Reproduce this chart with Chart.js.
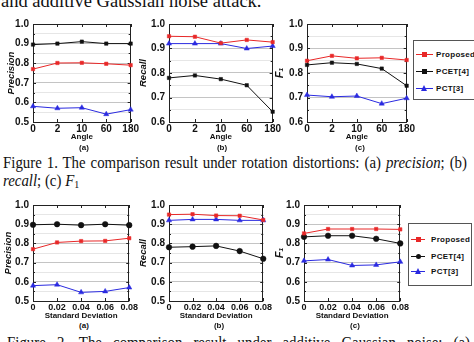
<!DOCTYPE html>
<html>
<head>
<meta charset="utf-8">
<script src="https://cdn.jsdelivr.net/npm/chart.js@4"></script>
<style>
  body { margin: 0; background: #fff; }
  #page { position: relative; width: 474px; height: 342px; overflow: hidden; background: #fff; }
  canvas { position: absolute; }
  .serif { position: absolute; font-family: 'Liberation Serif', 'Times New Roman', serif; color: #111; white-space: nowrap; transform-origin: 0 0; }
  .cap { font-size: 16.5px; line-height: 18px; }
  .just { text-align: justify; text-align-last: justify; }
  .sub { position: absolute; font: bold 8px 'Liberation Sans', Arial, sans-serif; color: #111; transform: translateX(-50%); }
  .legend { position: absolute; border: 1px solid #555; background: #fff; }
  .legend .row { position: absolute; left: 0; height: 10px; width: 80px; }
  .legend .ln { position: absolute; top: 4px; height: 1px; }
  .legend .txt { position: absolute; top: 0; font: bold 8px 'Liberation Sans', Arial, sans-serif; line-height: 10px; color: #111; letter-spacing: 0.3px; }
  .mk { position: absolute; }
</style>
</head>
<body>
<div id="page">
  <div class="serif" style="left:1px; top:-8px; font-size:18.5px; line-height:18.5px;">and additive Gaussian noise attack.</div>

  <canvas id="c1" width="134" height="128" style="left:6px; top:14px;"></canvas>
  <canvas id="c2" width="144" height="128" style="left:138px; top:14px;"></canvas>
  <canvas id="c3" width="143" height="128" style="left:273px; top:14px;"></canvas>
  <div class="legend" id="lg1" style="left:413px; top:40px; width:70px; height:58px;"></div>
  <div class="sub" style="left:84px; top:143px;">(a)</div>
  <div class="sub" style="left:222px; top:143px;">(b)</div>
  <div class="sub" style="left:360px; top:143px;">(c)</div>
  <div class="serif cap just" data-w="464" style="left:3px; top:154px;">Figure 1. The comparison result under rotation distortions: (a) <i>precision</i>; (b)</div>
  <div class="serif cap" style="left:3px; top:172px;"><i>recall</i>; (c) <i>F</i><span style="font-size:11px; vertical-align:-2px;">1</span></div>

  <canvas id="c4" width="136" height="126" style="left:3px; top:195px;"></canvas>
  <canvas id="c5" width="135" height="126" style="left:138px; top:195px;"></canvas>
  <canvas id="c6" width="137" height="126" style="left:273px; top:195px;"></canvas>
  <div class="legend" id="lg2" style="left:408px; top:223px; width:62px; height:61px;"></div>
  <div class="sub" style="left:84px; top:321px;">(a)</div>
  <div class="sub" style="left:219px; top:321px;">(b)</div>
  <div class="sub" style="left:355px; top:321px;">(c)</div>
  <div class="serif cap just" data-w="463" style="left:7px; top:333.5px;">Figure 2. The comparison result under additive Gaussian noise: (a)</div>
</div>
<script>
const angleLabels = ['0', '2', '10', '60', '180'];
const sdLabels = ['0', '0.02', '0.04', '0.06', '0.08'];
const seriesNames = ['Proposed', 'PCET[4]', 'PCT[3]'];

// Figure 1: rotation
const rotPrecisionProposed = [0.770, 0.801, 0.802, 0.797, 0.790];
const rotPrecisionPCET = [0.895, 0.900, 0.910, 0.900, 0.900];
const rotPrecisionPCT = [0.580, 0.570, 0.573, 0.540, 0.563];

const rotRecallProposed = [0.950, 0.948, 0.922, 0.935, 0.926];
const rotRecallPCET = [0.780, 0.790, 0.775, 0.750, 0.642];
const rotRecallPCT = [0.920, 0.920, 0.920, 0.900, 0.910];

const rotF1Proposed = [0.850, 0.870, 0.860, 0.862, 0.853];
const rotF1PCET = [0.833, 0.842, 0.837, 0.818, 0.748];
const rotF1PCT = [0.710, 0.703, 0.706, 0.675, 0.697];

// Figure 2: gaussian noise
const noisePrecisionProposed = [0.770, 0.805, 0.812, 0.813, 0.827];
const noisePrecisionPCET = [0.897, 0.900, 0.895, 0.900, 0.895];
const noisePrecisionPCT = [0.580, 0.585, 0.545, 0.550, 0.570];

const noiseRecallProposed = [0.950, 0.952, 0.945, 0.944, 0.922];
const noiseRecallPCET = [0.780, 0.783, 0.787, 0.760, 0.720];
const noiseRecallPCT = [0.920, 0.925, 0.925, 0.920, 0.920];

const noiseF1Proposed = [0.852, 0.875, 0.875, 0.875, 0.873];
const noiseF1PCET = [0.834, 0.840, 0.840, 0.824, 0.800];
const noiseF1PCT = [0.709, 0.716, 0.685, 0.688, 0.704];

const RED = '#e82828';
const BLACK = '#111111';
const BLUE = '#2a2ae0';
const SANS = "'Liberation Sans', Arial, sans-serif";

// the scanned caption is a bit narrower than Times, squeeze it horizontally
const CAP_SCALE = 0.9;
document.querySelectorAll('.cap').forEach((el) => {
  if (el.dataset.w) el.style.width = (Number(el.dataset.w) / CAP_SCALE) + 'px';
  el.style.transform = 'scaleX(' + CAP_SCALE + ')';
});

// box round the plot plus the little inner tick marks
const framePlugin = {
  id: 'frame',
  beforeDatasetsDraw(chart) {
    const { ctx, chartArea: a, scales } = chart;
    ctx.save();
    ctx.strokeStyle = '#222';
    ctx.lineWidth = 1;
    ctx.beginPath();
    scales.x.ticks.forEach((t, i) => {
      const x = Math.round(scales.x.getPixelForTick(i)) + 0.5;
      ctx.moveTo(x, a.bottom); ctx.lineTo(x, a.bottom - 3);
      ctx.moveTo(x, a.top); ctx.lineTo(x, a.top + 3);
    });
    scales.y.ticks.forEach((t) => {
      const y = Math.round(scales.y.getPixelForValue(t.value)) + 0.5;
      const len = Math.round(t.value * 100) % 10 === 0 ? 3 : 2;
      ctx.moveTo(a.left, y); ctx.lineTo(a.left + len, y);
      ctx.moveTo(a.right, y); ctx.lineTo(a.right - len, y);
    });
    ctx.stroke();
    ctx.strokeRect(Math.round(a.left) + 0.5, Math.round(a.top) + 0.5, Math.round(a.width) - 1, Math.round(a.height));
    ctx.restore();
  }
};

function makeChart(id, labels, proposed, pcet, pct, yMin, yTitle, xTitle, yWidth, pcetStyle, xFont, yTitleSize) {
  const ds = (label, data, color, style, r) => ({
    label, data,
    borderColor: color, backgroundColor: color,
    pointBackgroundColor: color, pointBorderColor: color,
    pointStyle: style, pointRadius: r, pointBorderWidth: 0.5,
    borderWidth: 1, tension: 0, clip: false
  });
  new Chart(document.getElementById(id), {
    type: 'line',
    data: {
      labels: labels,
      datasets: [
        ds(seriesNames[0], proposed, RED, 'rect', 2.4),
        ds(seriesNames[1], pcet, BLACK, pcetStyle, pcetStyle === 'circle' ? 2.8 : 2.4),
        ds(seriesNames[2], pct, BLUE, 'triangle', 3)
      ]
    },
    options: {
      responsive: false,
      animation: false,
      layout: { padding: { top: 10, right: 4, left: 0, bottom: 0 } },
      plugins: { legend: { display: false }, tooltip: { enabled: false } },
      scales: {
        x: {
          type: 'category',
          offset: false,
          grid: { display: false, drawTicks: false },
          border: { display: false },
          ticks: { font: { family: SANS, weight: 'bold', size: xFont }, color: '#111', padding: 1, maxRotation: 0, autoSkip: false },
          title: { display: true, text: xTitle, padding: 0, color: '#111', font: { family: SANS, weight: 'bold', size: 8 } },
          afterFit: (s) => { s.height = 20; }
        },
        y: {
          min: yMin, max: 1.0,
          grid: {
            drawTicks: false,
            color: (c) => (Math.round(c.tick.value * 100) % 10 === 0 ? '#c4c4c4' : '#e6e6e6')
          },
          border: { display: false },
          ticks: {
            stepSize: 0.05, autoSkip: false, padding: 4, color: '#111',
            font: { family: SANS, weight: 'bold', size: 10 },
            callback: (v) => (Math.round(v * 100) % 10 === 0 ? v.toFixed(1) : '')
          },
          title: { display: true, text: yTitle, padding: 0, color: '#111', font: { family: SANS, weight: 'bold', style: 'italic', size: yTitleSize } },
          afterFit: (s) => { s.width = yWidth; }
        }
      }
    },
    plugins: [framePlugin]
  });
}

makeChart('c1', angleLabels, rotPrecisionProposed, rotPrecisionPCET, rotPrecisionPCT, 0.5, 'Precision', 'Angle', 27, 'rect', 10, 9.5);
makeChart('c2', angleLabels, rotRecallProposed, rotRecallPCET, rotRecallPCT, 0.6, 'Recall', 'Angle', 31, 'rect', 10, 9.5);
makeChart('c3', angleLabels, rotF1Proposed, rotF1PCET, rotF1PCT, 0.6, 'F\u2081', 'Angle', 34, 'rect', 10, 11);
makeChart('c4', sdLabels, noisePrecisionProposed, noisePrecisionPCET, noisePrecisionPCT, 0.5, 'Precision', 'Standard Deviation', 30, 'circle', 9, 9.5);
makeChart('c5', sdLabels, noiseRecallProposed, noiseRecallPCET, noiseRecallPCT, 0.5, 'Recall', 'Standard Deviation', 31, 'circle', 9, 9.5);
makeChart('c6', sdLabels, noiseF1Proposed, noiseF1PCET, noiseF1PCT, 0.5, 'F\u2081', 'Standard Deviation', 31, 'circle', 9, 11);

function marker(style, color, cx) {
  const m = document.createElement('div');
  m.className = 'mk';
  if (style === 'triangle') {
    m.style.cssText = 'left:' + (cx - 3) + 'px; top:1px; width:0; height:0; border-left:3px solid transparent; border-right:3px solid transparent; border-bottom:6px solid ' + color + ';';
  } else {
    m.style.cssText = 'left:' + (cx - 2.5) + 'px; top:2px; width:5px; height:5px; background:' + color + ';' + (style === 'circle' ? 'border-radius:50%;' : '');
  }
  return m;
}

function buildLegend(id, rows, lineFrom, lineTo, markX, textX, pcetStyle) {
  const box = document.getElementById(id);
  const colors = [RED, BLACK, BLUE];
  const styles = ['rect', pcetStyle, 'triangle'];
  seriesNames.forEach((name, i) => {
    const row = document.createElement('div');
    row.className = 'row';
    row.style.top = (rows[i] - 5) + 'px';
    const ln = document.createElement('div');
    ln.className = 'ln';
    ln.style.left = lineFrom + 'px';
    ln.style.width = (lineTo - lineFrom) + 'px';
    ln.style.background = colors[i];
    row.appendChild(ln);
    row.appendChild(marker(styles[i], colors[i], markX));
    const txt = document.createElement('div');
    txt.className = 'txt';
    txt.style.left = textX + 'px';
    txt.textContent = name;
    row.appendChild(txt);
    box.appendChild(row);
  });
}

buildLegend('lg1', [14, 31, 48], 2, 19, 10, 22, 'rect');
buildLegend('lg2', [16, 33, 48], 2, 16, 9, 22, 'circle');
</script>
</body>
</html>
